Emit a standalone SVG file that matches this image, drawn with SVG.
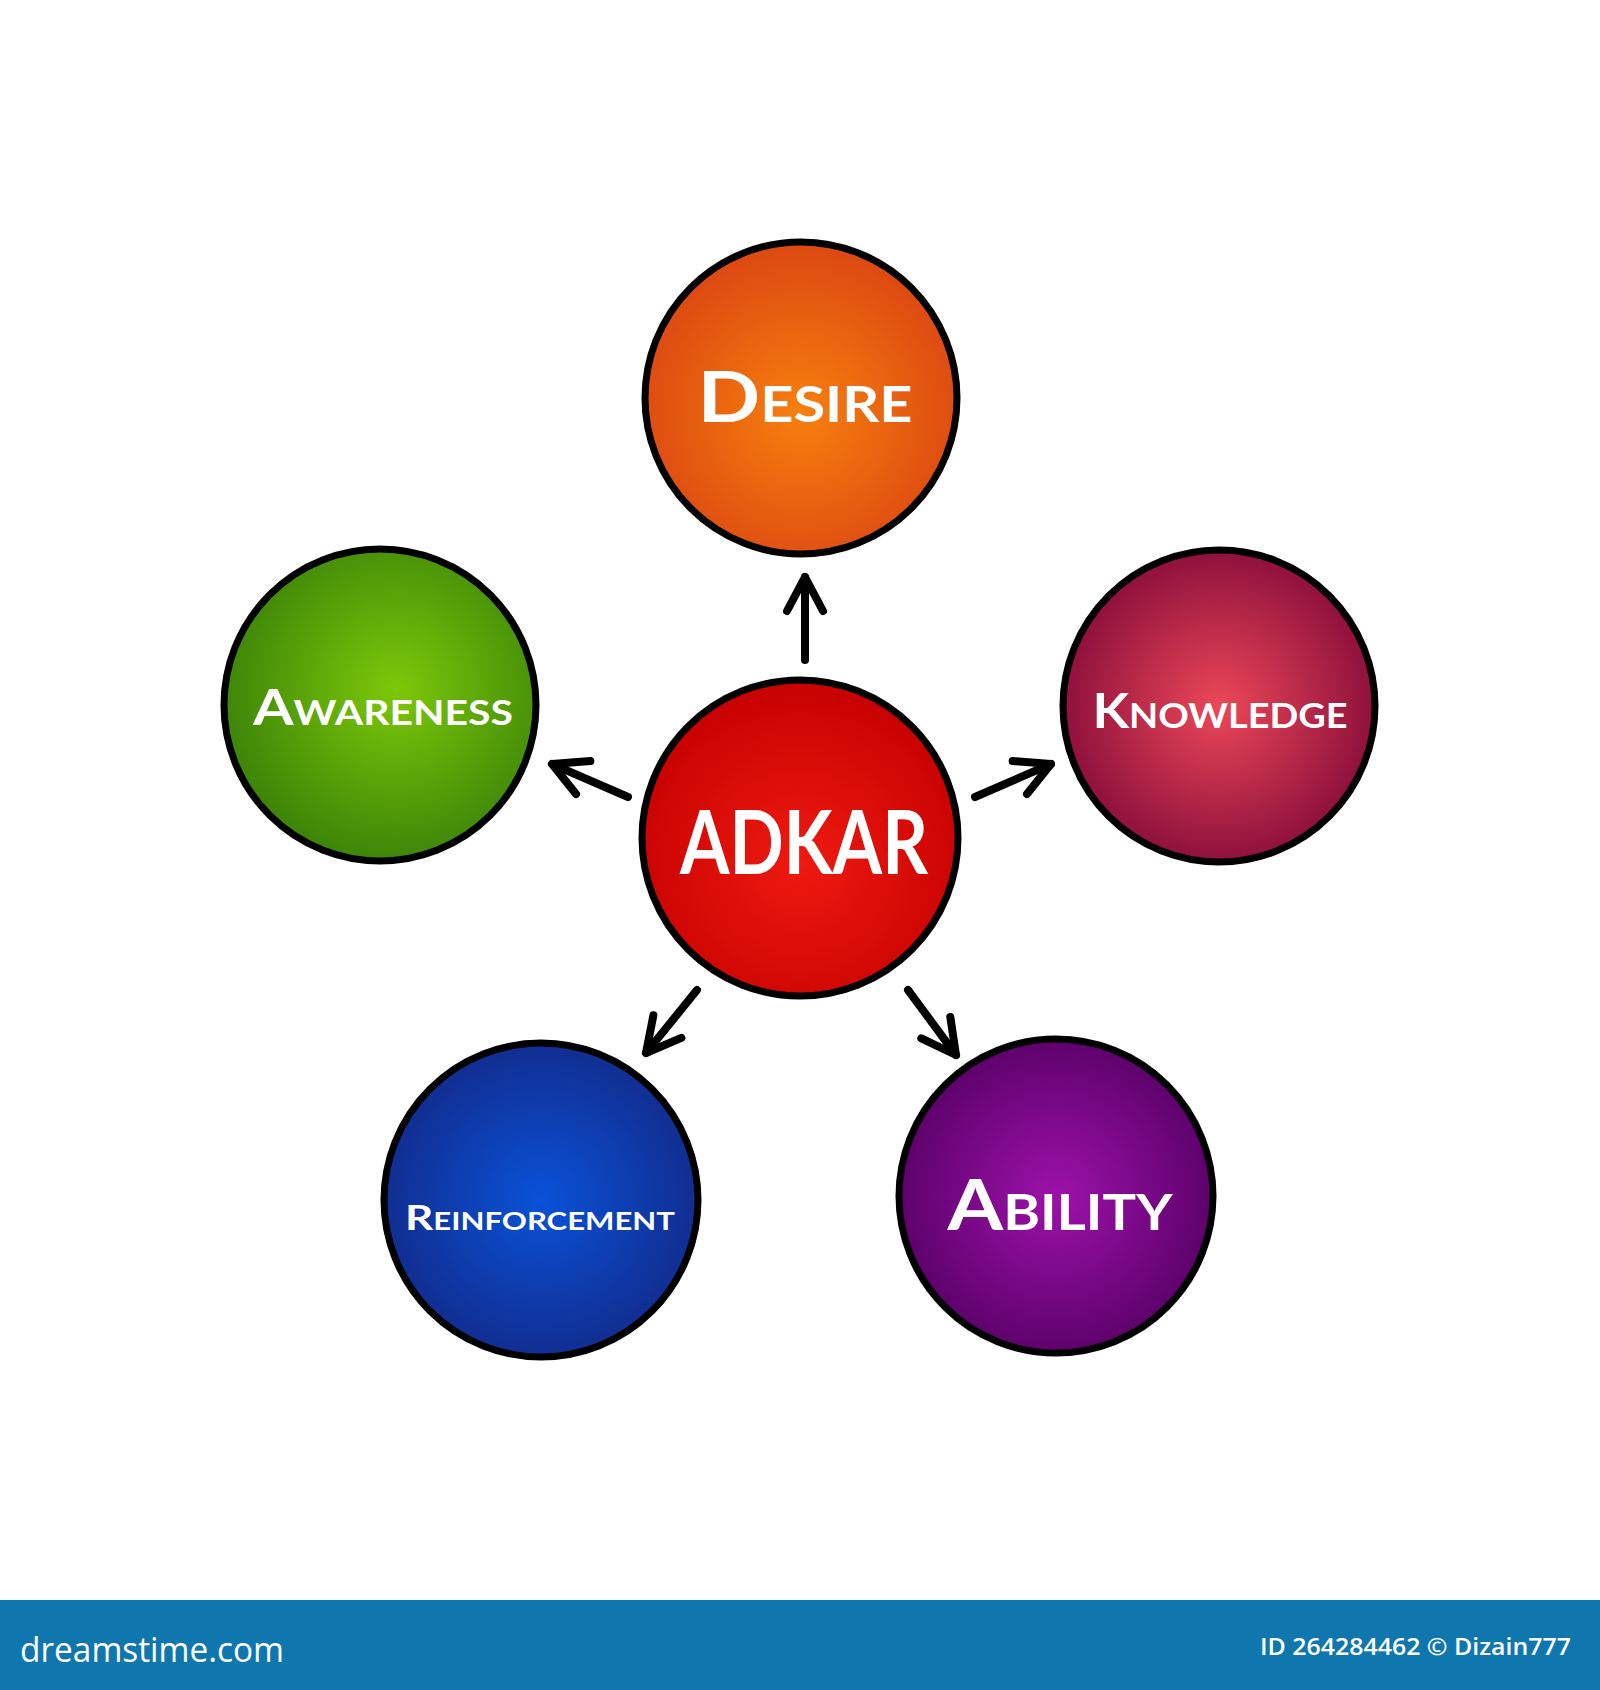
<svg xmlns="http://www.w3.org/2000/svg" width="1600" height="1690" viewBox="0 0 1600 1690">
<style>
.node circle{stroke:#000;stroke-width:7}
.lbl{font-family:Lato,"Open Sans","DejaVu Sans",sans-serif;font-weight:700;fill:#fff;text-anchor:middle;font-variant:small-caps}
.conn line{stroke:#000;stroke-width:8;stroke-linecap:round;marker-end:url(#head)}
.foot{font-family:"Open Sans","Liberation Sans",sans-serif;fill:#fff}
</style>
<defs>
<marker id="head" markerUnits="userSpaceOnUse" viewBox="-45 -25 55 50" refX="0" refY="0" markerWidth="55" markerHeight="50" orient="auto" overflow="visible">
<path d="M -34 -18 L 0 0 L -34 18" fill="none" stroke="#000" stroke-width="8" stroke-linecap="round" stroke-linejoin="round"/>
</marker>
<radialGradient id="gD" cx="0.5" cy="0.55" r="0.55"><stop offset="0" stop-color="#f77f0e"/><stop offset="1" stop-color="#dc4812"/></radialGradient>
<radialGradient id="gA" cx="0.5" cy="0.58" r="0.55"><stop offset="0" stop-color="#ef1a10"/><stop offset="1" stop-color="#c80202"/></radialGradient>
<radialGradient id="gW" cx="0.55" cy="0.45" r="0.55"><stop offset="0" stop-color="#7cc80a"/><stop offset="1" stop-color="#3e8608"/></radialGradient>
<radialGradient id="gK" cx="0.5" cy="0.5" r="0.55"><stop offset="0" stop-color="#ec4858"/><stop offset="1" stop-color="#850b3a"/></radialGradient>
<radialGradient id="gR" cx="0.5" cy="0.5" r="0.55"><stop offset="0" stop-color="#0a52d8"/><stop offset="1" stop-color="#122a8a"/></radialGradient>
<radialGradient id="gB" cx="0.5" cy="0.5" r="0.55"><stop offset="0" stop-color="#9c12aa"/><stop offset="1" stop-color="#580066"/></radialGradient>
</defs>
<rect width="1600" height="1690" fill="#fff"/>
<g class="conn" id="connectors">
<line x1="805" y1="660" x2="805" y2="577"/>
<line x1="975" y1="797" x2="1051" y2="764"/>
<line x1="628" y1="797" x2="552" y2="764"/>
<line x1="697" y1="990" x2="646" y2="1053"/>
<line x1="908" y1="990" x2="956" y2="1055"/>
</g>
<g class="node" id="desire"><circle cx="801" cy="398" r="156" fill="url(#gD)"/><text class="lbl" x="805" y="422" font-size="70" textLength="215" lengthAdjust="spacingAndGlyphs">Desire</text></g>
<g class="node" id="adkar"><circle cx="800" cy="838" r="158" fill="url(#gA)"/><text class="lbl" x="804" y="874" font-size="88" font-weight="900" textLength="248" lengthAdjust="spacingAndGlyphs">ADKAR</text></g>
<g class="node" id="awareness"><circle cx="380" cy="705" r="156" fill="url(#gW)"/><text class="lbl" x="383" y="725" font-size="50" textLength="260" lengthAdjust="spacingAndGlyphs">Awareness</text></g>
<g class="node" id="knowledge"><circle cx="1219" cy="706" r="156" fill="url(#gK)"/><text class="lbl" x="1220" y="728" font-size="48" textLength="255" lengthAdjust="spacingAndGlyphs">Knowledge</text></g>
<g class="node" id="reinforcement"><circle cx="541" cy="1200" r="157" fill="url(#gR)"/><text class="lbl" x="540" y="1230" font-size="34" textLength="270" lengthAdjust="spacingAndGlyphs">Reinforcement</text></g>
<g class="node" id="ability"><circle cx="1056" cy="1196" r="157" fill="url(#gB)"/><text class="lbl" x="1060" y="1230" font-size="70" textLength="225" lengthAdjust="spacingAndGlyphs">Ability</text></g>
<g id="footer">
<rect x="0" y="1600" width="1600" height="90" fill="#1077ae"/>
<text class="foot" x="20" y="1662" font-size="34" textLength="264" lengthAdjust="spacingAndGlyphs">dreamstime.com</text>
<text class="foot" x="1571" y="1655" font-size="24" font-weight="600" text-anchor="end" textLength="311" lengthAdjust="spacingAndGlyphs">ID 264284462 © Dizain777</text>
</g>
</svg>
